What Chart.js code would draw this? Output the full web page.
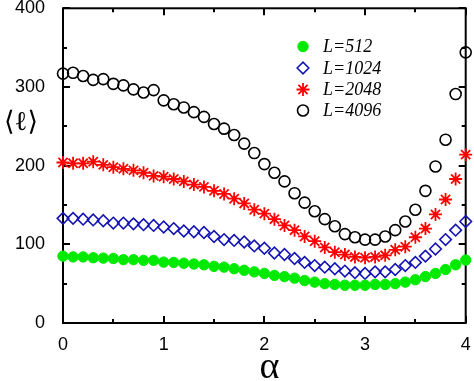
<!DOCTYPE html>
<html>
<head>
<meta charset="utf-8">
<script src="https://cdn.jsdelivr.net/npm/chart.js@4.4.1/dist/chart.umd.min.js"></script>
<style>
  html, body { margin: 0; padding: 0; background: #fff; }
  canvas { display: block; }
</style>
</head>
<body>
<canvas id="lenChart" width="474" height="381"></canvas>
<script>
// alpha values (x axis)
const alphas = [0, 0.1, 0.2, 0.3, 0.4, 0.5, 0.6, 0.7, 0.8, 0.9,
                1.0, 1.1, 1.2, 1.3, 1.4, 1.5, 1.6, 1.7, 1.8, 1.9,
                2.0, 2.1, 2.2, 2.3, 2.4, 2.5, 2.6, 2.7, 2.8, 2.9,
                3.0, 3.1, 3.2, 3.3, 3.4, 3.5, 3.6, 3.7, 3.8, 3.9, 4.0];

// <l>, one value per alpha
const l512  = [85, 84, 84, 83, 82.5, 82, 80.5, 80.5, 79.6, 79.6,
               77.4, 77, 76, 75, 74, 72, 71, 69, 67, 65,
               63, 60.5, 59, 57, 54, 52, 50, 49, 48, 48,
               48, 49, 49, 50, 52, 55, 59, 63, 68, 74, 80];
const l1024 = [133, 133, 132, 131, 130, 127, 127, 126, 125, 124,
               122, 120, 117, 116, 115, 110, 106, 105, 103, 98,
               95, 89, 87, 82, 77, 73, 71, 69, 66, 64,
               63, 65, 65, 68, 73, 77, 85, 94, 106, 118, 129];
const l2048 = [204, 203, 203, 205, 201, 198, 196, 194, 191, 187,
               186, 183, 180, 176, 173, 168, 164, 158, 152, 144,
               139, 132, 124, 118, 110, 104, 96, 90, 87, 84,
               83, 84, 86, 93, 97, 109, 120, 138, 157, 183, 214];
const l4096 = [317, 318, 314, 309, 310, 304, 302, 297, 293, 296,
               283, 278, 274, 268, 262, 253, 247, 239, 228, 216,
               202, 191, 180, 165, 153, 142, 132, 123, 113, 109,
               106, 106, 110, 118, 129, 144, 168, 199, 233, 291, 344];

const seriesLabels = ['L=512', 'L=1024', 'L=2048', 'L=4096'];
const xTicks = [0, 1, 2, 3, 4];
const yTicks = [0, 100, 200, 300, 400];

function pts(vals) {
    return alphas.map((a, i) => ({ x: a, y: vals[i] }));
}

const styles = [
    { pointStyle: 'circle',  radius: 5.2, fill: '#00ea00', stroke: '#00ea00', bw: 1 },
    { pointStyle: 'rectRot', radius: 5.8, fill: 'rgba(0,0,0,0)', stroke: '#1414b4', bw: 1.6 },
    { pointStyle: 'star',    radius: 6.5, fill: 'rgba(0,0,0,0)', stroke: '#ff0000', bw: 1.8 },
    { pointStyle: 'circle',  radius: 5.5, fill: 'rgba(0,0,0,0)', stroke: '#000000', bw: 1.6 }
];
const seriesData = [l512, l1024, l2048, l4096];

const datasets = seriesData.map((vals, i) => ({
    label: seriesLabels[i],
    data: pts(vals),
    showLine: false,
    clip: false,
    pointStyle: styles[i].pointStyle,
    pointRadius: styles[i].radius,
    pointBackgroundColor: styles[i].fill,
    pointBorderColor: styles[i].stroke,
    pointBorderWidth: styles[i].bw
}));

// frame, inward ticks, axis titles and legend
const decorations = {
    id: 'decorations',
    beforeDatasetsDraw(chart) {
        const { ctx, chartArea: a, scales } = chart;
        const sx = scales.x, sy = scales.y;
        ctx.save();
        ctx.strokeStyle = '#000';
        ctx.lineWidth = 2;
        ctx.strokeRect(a.left, a.top, a.right - a.left, a.bottom - a.top);
        ctx.beginPath();
        for (let v = 0; v <= 4.001; v += 0.5) {
            const px = Math.round(sx.getPixelForValue(v));
            const len = Math.abs(v - Math.round(v)) < 0.01 ? 7 : 4;
            ctx.moveTo(px, a.bottom); ctx.lineTo(px, a.bottom - len);
            ctx.moveTo(px, a.top); ctx.lineTo(px, a.top + len);
        }
        for (let v = 0; v <= 400; v += 50) {
            const py = Math.round(sy.getPixelForValue(v));
            const len = v % 100 === 0 ? 7 : 4;
            ctx.moveTo(a.left, py); ctx.lineTo(a.left + len, py);
            ctx.moveTo(a.right, py); ctx.lineTo(a.right - len, py);
        }
        ctx.stroke();
        ctx.restore();
    },
    afterDraw(chart) {
        const { ctx, chartArea: a } = chart;
        ctx.save();
        ctx.fillStyle = '#000';
        // axis titles
        ctx.textAlign = 'center';
        ctx.textBaseline = 'alphabetic';
        ctx.font = '38px "Liberation Serif", serif';
        ctx.fillText('\u03b1', (a.left + a.right) / 2 + 5, 378);
        ctx.font = '27px "DejaVu Serif", serif';
        ctx.textBaseline = 'middle';
        ctx.fillText('\u27e8\u2113\u27e9', 21, 123);
        // legend
        const lx = 303, ly = [46.5, 68, 89.5, 110.5];
        ctx.font = 'italic 18px "Liberation Serif", serif';
        ctx.textAlign = 'left';
        ctx.textBaseline = 'middle';
        styles.forEach((s, i) => {
            ctx.fillStyle = s.fill;
            ctx.strokeStyle = s.stroke;
            ctx.lineWidth = s.bw;
            Chart.helpers.drawPoint(ctx, { pointStyle: s.pointStyle, radius: s.radius, rotation: 0, borderWidth: s.bw }, lx, ly[i]);
            ctx.fillStyle = '#000';
            ctx.fillText(seriesLabels[i], 323, ly[i] + 1);
        });
        ctx.restore();
    }
};

const config = {
    type: 'scatter',
    data: { datasets: datasets },
    options: {
        responsive: false,
        animation: false,
        events: [],
        layout: { padding: { top: 8, right: 8, left: 0, bottom: 0 } },
        plugins: { legend: { display: false }, tooltip: { enabled: false } },
        scales: {
            x: {
                type: 'linear',
                min: 0, max: 4,
                grid: { display: false },
                border: { display: false },
                afterBuildTicks: s => { s.ticks = xTicks.map(v => ({ value: v })); },
                ticks: {
                    color: '#000',
                    font: { family: '"Liberation Sans", Arial, sans-serif', size: 18 },
                    padding: 3,
                    maxRotation: 0
                },
                afterFit: s => { s.height = 58; s.paddingLeft = 0; s.paddingRight = 0; }
            },
            y: {
                type: 'linear',
                min: 0, max: 400,
                grid: { display: false },
                border: { display: false },
                afterBuildTicks: s => { s.ticks = yTicks.map(v => ({ value: v })); },
                ticks: {
                    color: '#000',
                    font: { family: '"Liberation Sans", Arial, sans-serif', size: 18 },
                    padding: 10
                },
                afterFit: s => { s.width = 63; s.paddingTop = 0; s.paddingBottom = 0; }
            }
        }
    },
    plugins: [decorations]
};

const lenChart = new Chart(document.getElementById('lenChart').getContext('2d'), config);
</script>
</body>
</html>
